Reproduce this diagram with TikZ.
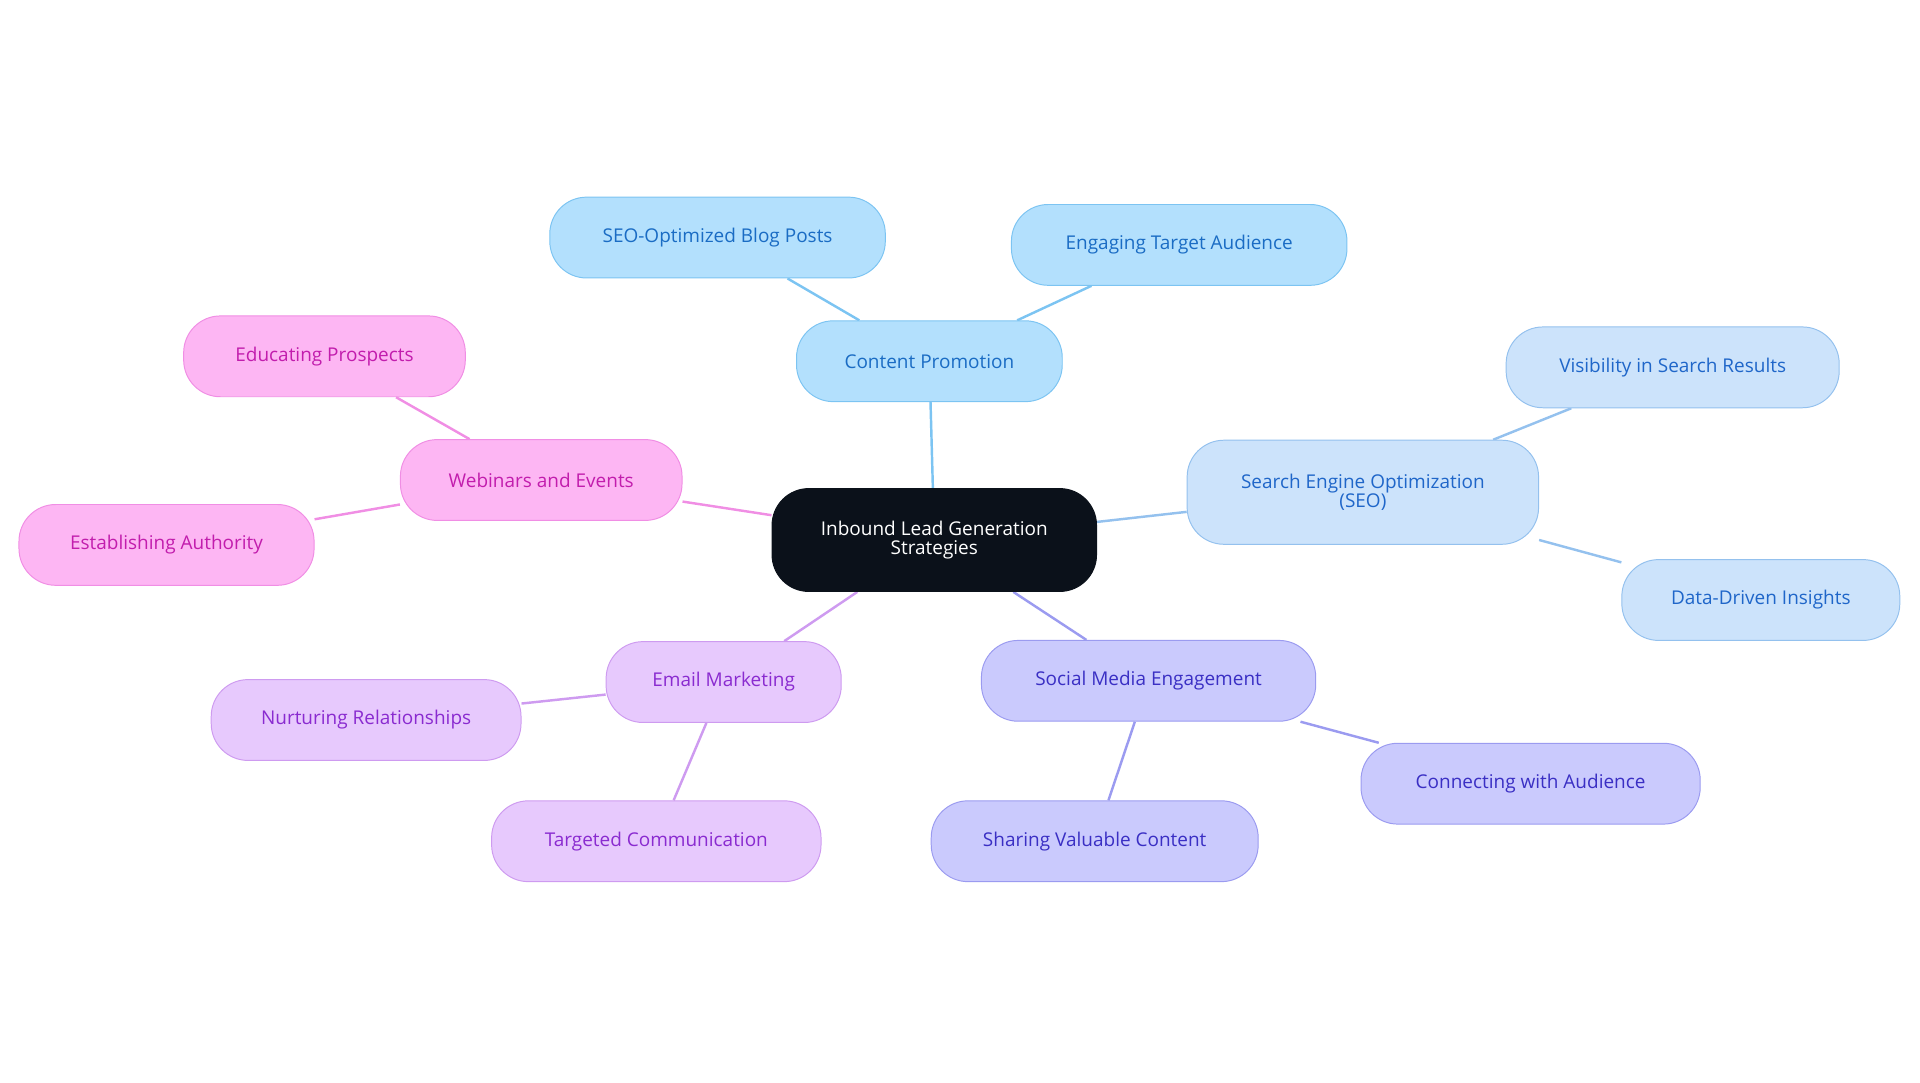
\documentclass[tikz,border=0pt]{standalone}
\usepackage{fontspec}
\setmainfont{Open Sans}
\usetikzlibrary{backgrounds}
\definecolor{bF}{HTML}{B3E0FD}\definecolor{bS}{HTML}{7CC4F2}\definecolor{bT}{HTML}{1A6CC4}
\definecolor{sF}{HTML}{CCE3FB}\definecolor{sS}{HTML}{94C1EE}\definecolor{sT}{HTML}{1F66C9}
\definecolor{mF}{HTML}{CACAFD}\definecolor{mS}{HTML}{9B9BF0}\definecolor{mT}{HTML}{3A2FC4}
\definecolor{eF}{HTML}{E7C9FD}\definecolor{eS}{HTML}{CE9BF0}\definecolor{eT}{HTML}{8A2BD0}
\definecolor{wF}{HTML}{FDB6F3}\definecolor{wS}{HTML}{F08EE4}\definecolor{wT}{HTML}{C21DAD}
\definecolor{cF}{HTML}{0B111A}
\begin{document}
\begin{tikzpicture}[x=1pt,y=-1pt,
  box/.style={rounded corners=30pt,minimum height=66pt,align=center,font=\fontsize{15.5}{16}\selectfont,line width=0.8pt,inner sep=0pt},
  bx/.style={box,fill=bF,draw=bS,text=bT},
  sx/.style={box,fill=sF,draw=sS,text=sT},
  mx/.style={box,fill=mF,draw=mS,text=mT},
  ex/.style={box,fill=eF,draw=eS,text=eT},
  wx/.style={box,fill=wF,draw=wS,text=wT},
  ln/.style={line width=2pt}]
\useasboundingbox (0,0) rectangle (1568,884);
\node[box,fill=cF,draw=cF,text=white,minimum width=265pt,minimum height=84pt] (c) at (763,441) {Inbound Lead Generation\\Strategies};
\node[bx,minimum width=217pt] (cp) at (759,295) {Content Promotion};
\node[bx,minimum width=274pt] (blog) at (586,194) {SEO-Optimized Blog Posts};
\node[bx,minimum width=274pt] (eng) at (963,200) {Engaging Target Audience};
\node[sx,minimum width=287pt,minimum height=85pt] (seo) at (1113,402) {Search Engine Optimization\\(SEO)};
\node[sx,minimum width=272pt] (vis) at (1366,300) {Visibility in Search Results};
\node[sx,minimum width=227pt] (dd) at (1438,490) {Data-Driven Insights};
\node[mx,minimum width=273pt] (sm) at (938,556) {Social Media Engagement};
\node[mx,minimum width=277pt] (con) at (1250,640) {Connecting with Audience};
\node[mx,minimum width=267pt] (sh) at (894,687) {Sharing Valuable Content};
\node[ex,minimum width=192pt] (em) at (591,557) {Email Marketing};
\node[ex,minimum width=253pt] (nur) at (299,588) {Nurturing Relationships};
\node[ex,minimum width=269pt] (tc) at (536,687) {Targeted Communication};
\node[wx,minimum width=230pt] (web) at (442,392) {Webinars and Events};
\node[wx,minimum width=230pt] (edu) at (265,291) {Educating Prospects};
\node[wx,minimum width=241pt] (est) at (136,445) {Establishing Authority};
\begin{scope}[on background layer]
\draw[ln,bS] (c)--(cp) (cp)--(blog) (cp)--(eng);
\draw[ln,sS] (c)--(seo) (seo)--(vis) (seo)--(dd);
\draw[ln,mS] (c)--(sm) (sm)--(con) (sm)--(sh);
\draw[ln,eS] (c)--(em) (em)--(nur) (em)--(tc);
\draw[ln,wS] (c)--(web) (web)--(edu) (web)--(est);
\end{scope}
\end{tikzpicture}
\end{document}
